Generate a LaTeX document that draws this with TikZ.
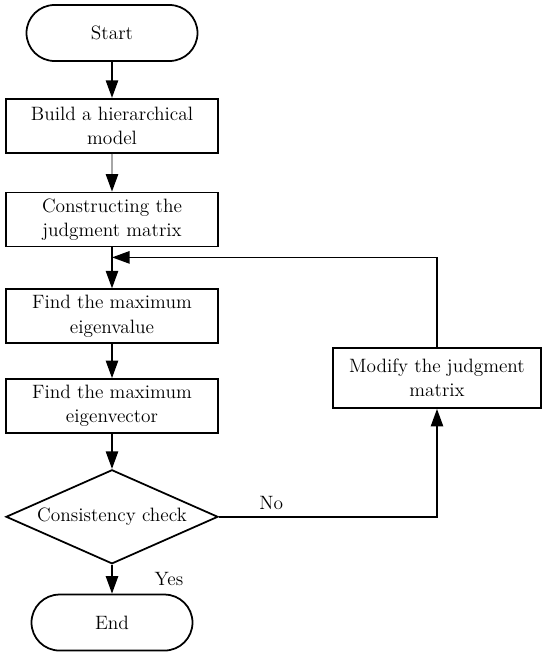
\documentclass[tikz,border=0pt]{standalone}
\usetikzlibrary{positioning, shapes.geometric, arrows.meta}
\tikzset{
	basefont/.style={font={\fontsize{11}{13.8}\selectfont}},
	stepbox/.style={
		draw,
		line width=1pt,
		align=center,
		basefont,
		minimum width=4.24cm,
		minimum height=1.08cm,
	},
	termbox/.style={
		draw,
		line width=1pt,
		basefont,
		rounded corners=0.56cm,
		minimum height=1.12cm,
	},
	checkbox/.style={
		draw,
		diamond,
		aspect=2.25,
		line width=1pt,
		basefont,
		inner sep=0pt,
		minimum width=4.24cm,
		minimum height=1.88cm,
	},
	arr/.style={line width=1pt, -{Triangle[width=7pt,length=10pt]}},
	labe/.style={basefont},
}
\begin{document}
\begin{tikzpicture}
	\useasboundingbox (0,0) rectangle (11,-13.1);
	\node[termbox, minimum width=3.42cm] (start) at (2.24,-0.66) {Start};
	\node[stepbox, below = 0.72cm of start](model){Build a hierarchical\\model};
	\node[stepbox, below = 0.76cm of model](matrix){Constructing the\\judgment matrix};
	\node[stepbox, below = 0.82cm of matrix](eigval){Find the maximum\\eigenvalue};
	\node[stepbox, below = 0.68cm of eigval](eigvec){Find the maximum\\eigenvector};
	\node[checkbox, below = 0.70cm of eigvec](check){Consistency check};
	\node[termbox, minimum width=3.22cm, below = 0.58cm of check](end){End};
	% correction branch
	\node[stepbox, minimum width=4.16cm, minimum height=1.2cm] (modify) at (8.74,-7.56) {Modify the judgment\\matrix};
	\coordinate[below = 0.2cm of matrix.south] (back);

	\draw[arr] (start) to (model);
	\draw[arr, draw=gray!70, -{Triangle[width=7pt,length=10pt,black]}] (model) to (matrix);
	\draw[arr] (matrix) to (eigval);
	\draw[arr] (eigval) to (eigvec);
	\draw[arr] (eigvec) to (check);
	\draw[arr] (check) to node[labe, right=0.72cm]{Yes} (end);
	\draw[arr] (check.east) -| node[labe, pos=0.12, above]{No} (modify.south);
	\draw[arr] (modify.north) |- (back);
\end{tikzpicture}
\end{document}
